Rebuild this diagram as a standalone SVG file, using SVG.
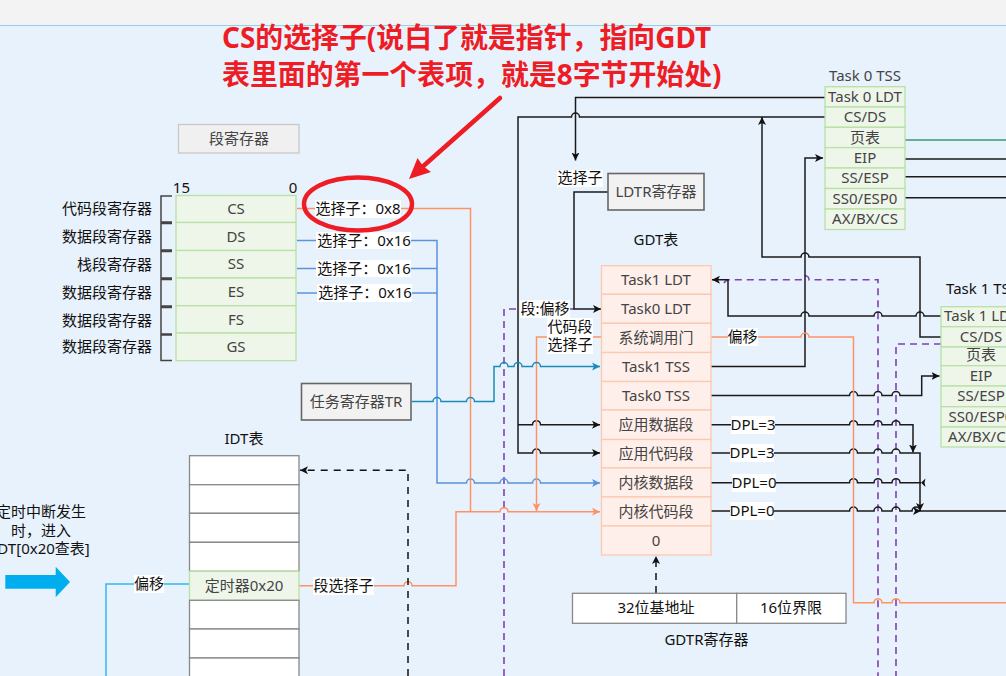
<svg xmlns="http://www.w3.org/2000/svg" width="1006" height="676" viewBox="0 0 1006 676">
<style>
text{font-family:"Noto Sans","Noto Sans CJK SC",sans-serif;font-size:15px;fill:#111;text-anchor:middle;dominant-baseline:central;transform:translateY(-1px)}
.c text,text.g{fill:#444}
.gc{fill:#eef6ea;stroke:#b9e0a5;stroke-width:1.3}
.pc{fill:#ffefea;stroke:#fbc9b0;stroke-width:1.3}
.wc{fill:#fff;stroke:#888;stroke-width:1.3}
.box{fill:#f2f2f2;stroke:#666;stroke-width:1.6}
.bg{fill:#fff}
path{fill:none;stroke-width:1.5}
.k{stroke:#1a1a1a;marker-end:url(#ak)}
.k0{stroke:#1a1a1a}
.b{stroke:#5b93dc}
.o{stroke:#ff9264}
.t{stroke:#1a8bb8}
.p{stroke:#8040b0;stroke-dasharray:7 5;stroke-width:1.6}
.d{stroke:#111;stroke-dasharray:7 6;marker-end:url(#ak)}
text.r{font-size:27.9px;font-weight:700;fill:#ee1c25;text-anchor:start;dominant-baseline:auto;transform:none}
</style>
<defs>
<marker id="ak" markerUnits="userSpaceOnUse" markerWidth="10" markerHeight="10" refX="8" refY="5" orient="auto"><path d="M0 1 L8 5 L0 9 L2 5Z" style="fill:#111;stroke:none"/></marker>
<marker id="ab" markerUnits="userSpaceOnUse" markerWidth="10" markerHeight="10" refX="8" refY="5" orient="auto"><path d="M0 1 L8 5 L0 9 L2 5Z" style="fill:#5b93dc;stroke:none"/></marker>
<marker id="ao" markerUnits="userSpaceOnUse" markerWidth="10" markerHeight="10" refX="8" refY="5" orient="auto"><path d="M0 1 L8 5 L0 9 L2 5Z" style="fill:#ff9264;stroke:none"/></marker>
<marker id="at" markerUnits="userSpaceOnUse" markerWidth="10" markerHeight="10" refX="8" refY="5" orient="auto"><path d="M0 1 L8 5 L0 9 L2 5Z" style="fill:#1a8bb8;stroke:none"/></marker>
</defs>
<rect width="1006" height="676" fill="#e8f2fc"/>
<rect width="1006" height="25" fill="#f3f3f3"/>
<line x1="0" y1="25.5" x2="1006" y2="25.5" stroke="#8fd0ea" stroke-width="1.2"/>

<g id="connectors">
<path class="p" d="M724 283Q726 279.7 729 279.7H801a4 4 0 0 1 8 0H878V676"/>
<path class="p" d="M941 344H896V676"/>
<path class="p" d="M504 676V309H574"/>
<path class="k" d="M825 97.5H575.5V160.5"/>
<path class="k0" d="M825 117H579.5a4 4 0 0 0 -8 0H518V453H532.5a4 4 0 0 1 8 0H600" style="marker-end:url(#ak)"/>
<path class="k" d="M518 424.7H532.5a4 4 0 0 1 8 0H600"/>
<path class="k" d="M711 366.5H805V158H823"/>
<path class="k" d="M711 395.5H849.5a4 4 0 0 1 8 0H874a4 4 0 0 1 8 0H892a4 4 0 0 1 8 0H921.7V376H939.5"/>
<path class="k" d="M711 424.7H849.5a4 4 0 0 1 8 0H874a4 4 0 0 1 8 0H892a4 4 0 0 1 8 0H913V452.5"/>
<path class="k" d="M711 453H849.5a4 4 0 0 1 8 0H874a4 4 0 0 1 8 0H892a4 4 0 0 1 8 0H920V511"/>
<path class="k0" d="M711 482.7H849.5a4 4 0 0 1 8 0H874a4 4 0 0 1 8 0H892a4 4 0 0 1 8 0H921"/>
<polygon points="921,482.7 925.5,478.5 924.5,482.7 925.5,487" fill="#111"/>
<path class="k0" d="M711 511H849.5a4 4 0 0 1 8 0H874a4 4 0 0 1 8 0H892a4 4 0 0 1 8 0H912a4 4 0 0 1 8 0H1006"/>
<polygon points="921,511 913,507 915,511 913,515" fill="#111"/>
<path class="k" d="M941 316H924a4 4 0 0 0 -8 0H882a4 4 0 0 0 -8 0H809a4 4 0 0 0 -8 0H728V279.7H712"/>
<path class="k" d="M941 337H920V257H809a4 4 0 0 0 -8 0H762V117"/>
<path class="k" d="M608 192H574V309H601"/>
<path class="b" d="M297 240.5H437V483H466.5a4 4 0 0 1 8 0H500a4 4 0 0 1 8 0H532.5a4 4 0 0 1 8 0H600" style="marker-end:url(#ab)"/>
<path class="b" d="M297 268.5H437"/>
<path class="b" d="M297 293H437"/>
<path class="o" d="M297 208.5H470.5V511.7"/>
<path class="o" d="M299 585.7H404a4 4 0 0 1 8 0H456V511.7H500a4 4 0 0 1 8 0H600" style="marker-end:url(#ao)"/>
<path class="o" d="M601 337H536.5V511" style="marker-end:url(#ao)"/>
<path class="o" d="M711 337H801a4 4 0 0 1 8 0H853.5V602.7H874a4 4 0 0 1 8 0H892a4 4 0 0 1 8 0H1006"/>
<path class="t" d="M412 401.5H433a4 4 0 0 1 8 0H466.5a4 4 0 0 1 8 0H494V366.5H500a4 4 0 0 1 8 0H514a4 4 0 0 1 8 0H532.5a4 4 0 0 1 8 0H600" style="marker-end:url(#at)"/>
<path stroke="#3a9a70" d="M905 140H1006"/>
<path class="k0" d="M905 159H1006"/>
<path class="k0" d="M905 176.7H1006"/>
<path class="k0" d="M905 197.7H1006"/>
<path class="d" d="M656 593V556"/>
<path class="d" d="M408 676V470.3H300"/>
<path stroke="#2fb8ee" d="M189 584H106V676"/>
<rect class="bg" x="315" y="200" width="86" height="18"/><text x="358" y="208.5">选择子：0x8</text>
<rect class="bg" x="316" y="232" width="95" height="17"/><text x="364" y="240.5">选择子：0x16</text>
<rect class="bg" x="316" y="260" width="95" height="17"/><text x="364" y="268.5">选择子：0x16</text>
<rect class="bg" x="317" y="284" width="95" height="18"/><text x="365" y="293">选择子：0x16</text>
<rect class="bg" x="557" y="170" width="46" height="17"/><text x="580" y="178">选择子</text>
<rect class="bg" x="520" y="300" width="50" height="18"/><text x="545" y="309">段:偏移</text>
<rect class="bg" x="547" y="318" width="46" height="36"/><text x="570" y="326.5">代码段</text><text x="570" y="345">选择子</text>
<rect class="bg" x="728" y="328" width="30" height="18"/><text x="742.5" y="337">偏移</text>
<rect class="bg" x="731" y="416" width="44" height="18"/><text x="753" y="424.5">DPL=3</text>
<rect class="bg" x="730" y="444" width="44" height="18"/><text x="752" y="453">DPL=3</text>
<rect class="bg" x="732" y="474" width="44" height="18"/><text x="754" y="482.7">DPL=0</text>
<rect class="bg" x="730" y="502" width="44" height="18"/><text x="752" y="511">DPL=0</text>
<rect class="bg" x="313" y="577" width="61" height="18"/><text x="343.5" y="586">段选择子</text>
<rect class="bg" x="134" y="575" width="30" height="18"/><text x="149" y="584">偏移</text>
</g>

<g id="seg-title"><rect x="178.5" y="124.5" width="120.5" height="28.5" fill="#f0f0f0" stroke="#c8c8c8" stroke-width="1.3"/><text class="g" x="239" y="139">段寄存器</text></g>

<g id="seg-registers" class="c">
<rect class="gc" x="176" y="195.5" width="120" height="27"/><text x="236" y="208.5">CS</text>
<rect class="gc" x="176" y="222.5" width="120" height="28"/><text x="236" y="236.5">DS</text>
<rect class="gc" x="176" y="250.5" width="120" height="27.5"/><text x="236" y="264">SS</text>
<rect class="gc" x="176" y="278" width="120" height="27.7"/><text x="236" y="292">ES</text>
<rect class="gc" x="176" y="305.7" width="120" height="27.3"/><text x="236" y="320">FS</text>
<rect class="gc" x="176" y="333" width="120" height="27.7"/><text x="236" y="346.5">GS</text>
</g>
<g id="seg-labels">
<path style="stroke:#444;stroke-width:1.5" d="M172 196H161V222H172M172 223.5H161V250H172M172 251.5H161V278H172M172 279.5H161V306H172M172 307.5H161V334H172M172 335H161V360.5H172"/>
<text x="190" y="188" style="text-anchor:end">15</text><text x="293" y="188">0</text>
<text x="152" y="208.5" style="text-anchor:end">代码段寄存器</text>
<text x="152" y="236.5" style="text-anchor:end">数据段寄存器</text>
<text x="152" y="264.5" style="text-anchor:end">栈段寄存器</text>
<text x="152" y="292.5" style="text-anchor:end">数据段寄存器</text>
<text x="152" y="320.5" style="text-anchor:end">数据段寄存器</text>
<text x="152" y="347" style="text-anchor:end">数据段寄存器</text>
</g>

<g id="ldtr" class="c"><rect class="box" x="608" y="173.5" width="96" height="36.5"/><text x="656" y="192">LDTR寄存器</text></g>
<g id="tr" class="c"><rect class="box" x="301.5" y="383.5" width="109.5" height="36.5"/><text x="356" y="402">任务寄存器TR</text></g>

<g id="gdt" class="c">
<rect class="pc" x="601.5" y="265.7" width="109.5" height="28.6"/><text x="656" y="280">Task1 LDT</text>
<rect class="pc" x="601.5" y="294.3" width="109.5" height="29"/><text x="656" y="309">Task0 LDT</text>
<rect class="pc" x="601.5" y="323.3" width="109.5" height="29.2"/><text x="656" y="338">系统调用门</text>
<rect class="pc" x="601.5" y="352.5" width="109.5" height="29"/><text x="656" y="367">Task1 TSS</text>
<rect class="pc" x="601.5" y="381.5" width="109.5" height="28.5"/><text x="656" y="396">Task0 TSS</text>
<rect class="pc" x="601.5" y="410" width="109.5" height="29.5"/><text x="656" y="425">应用数据段</text>
<rect class="pc" x="601.5" y="439.5" width="109.5" height="28.5"/><text x="656" y="453.5">应用代码段</text>
<rect class="pc" x="601.5" y="468" width="109.5" height="29"/><text x="656" y="482.5">内核数据段</text>
<rect class="pc" x="601.5" y="497" width="109.5" height="29"/><text x="656" y="511.5">内核代码段</text>
<rect class="pc" x="601.5" y="526" width="109.5" height="29"/><text x="656" y="540.5">0</text>
</g>
<text x="656" y="240">GDT表</text>

<g id="task0" class="c">
<text x="865" y="76">Task 0 TSS</text>
<rect class="gc" x="825" y="86.7" width="80" height="20.3"/><text x="865" y="97">Task 0 LDT</text>
<rect class="gc" x="825" y="107" width="80" height="20.3"/><text x="865" y="117">CS/DS</text>
<rect class="gc" x="825" y="127.3" width="80" height="20.3"/><text x="865" y="137.5">页表</text>
<rect class="gc" x="825" y="147.6" width="80" height="20.4"/><text x="865" y="157.5">EIP</text>
<rect class="gc" x="825" y="168" width="80" height="20.5"/><text x="865" y="178">SS/ESP</text>
<rect class="gc" x="825" y="188.5" width="80" height="20.5"/><text x="865" y="198.5">SS0/ESP0</text>
<rect class="gc" x="825" y="209" width="80" height="20.5"/><text x="865" y="219">AX/BX/CS</text>
</g>

<g id="task1" class="c">
<text x="946" y="289" style="text-anchor:start;fill:#111">Task 1 TSS</text>
<rect class="gc" x="941" y="306.7" width="80" height="20"/><text x="981" y="316">Task 1 LDT</text>
<rect class="gc" x="941" y="326.7" width="80" height="20.3"/><text x="981" y="336.5">CS/DS</text>
<rect class="gc" x="941" y="347" width="80" height="18.7"/><text x="981" y="355">页表</text>
<rect class="gc" x="941" y="365.7" width="80" height="20.3"/><text x="981" y="375.5">EIP</text>
<rect class="gc" x="941" y="386" width="80" height="20.7"/><text x="981" y="396">SS/ESP</text>
<rect class="gc" x="941" y="406.7" width="80" height="20.3"/><text x="981" y="416.5">SS0/ESP0</text>
<rect class="gc" x="941" y="427" width="80" height="20"/><text x="981" y="437">AX/BX/CS</text>
</g>

<g id="gdtr">
<rect class="wc" x="572.5" y="593.3" width="164.2" height="30"/><text x="656" y="608">32位基地址</text>
<rect class="wc" x="736.7" y="593.3" width="109.3" height="30"/><text x="791" y="608">16位界限</text>
<text x="706.5" y="640">GDTR寄存器</text>
</g>

<g id="idt">
<text x="244" y="439">IDT表</text>
<rect class="wc" x="189.5" y="455.7" width="109.5" height="29"/>
<rect class="wc" x="189.5" y="484.7" width="109.5" height="28.6"/>
<rect class="wc" x="189.5" y="513.3" width="109.5" height="29"/>
<rect class="wc" x="189.5" y="542.3" width="109.5" height="29"/>
<rect class="gc" x="189.5" y="571.3" width="109.5" height="29"/><text class="g" x="244" y="586">定时器0x20</text>
<rect class="wc" x="189.5" y="600.3" width="109.5" height="28.7"/>
<rect class="wc" x="189.5" y="629" width="109.5" height="29"/>
<rect class="wc" x="189.5" y="658" width="109.5" height="29"/>
</g>

<g id="interrupt">
<text x="41" y="512">定时中断发生</text><text x="41" y="530.5">时，进入</text><text x="41" y="549">IDT[0x20查表]</text>
<polygon points="5.3,575 55.7,575 55.7,566.7 70,582 55.7,597.3 55.7,588.7 5.3,588.7" fill="#00aeef"/>
</g>

<g id="annotation">
<text class="r" x="222" y="48">CS的选择子(说白了就是指针，指向GDT</text>
<text class="r" x="222" y="85">表里面的第一个表项，就是8字节开始处)</text>
<ellipse cx="358" cy="204" rx="54" ry="26.5" fill="none" stroke="#ee1c25" stroke-width="4.5"/>
<path style="stroke:#ee1c25;stroke-width:4.5;stroke-linecap:round" d="M500 98L420 169"/>
<polygon points="409,179 417.5,158 423,166 431,172" fill="#ee1c25"/>
</g>
</svg>
